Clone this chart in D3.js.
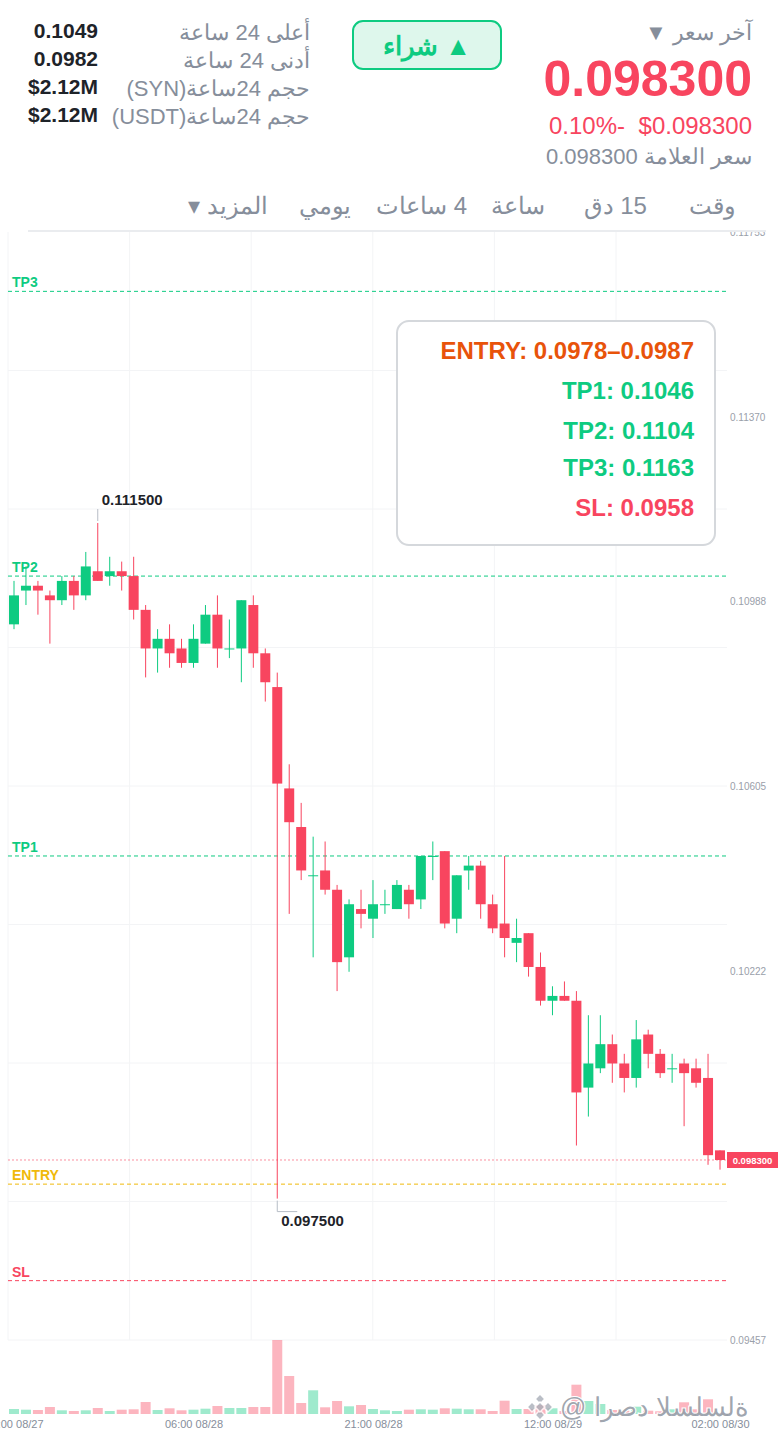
<!DOCTYPE html>
<html>
<head>
<meta charset="utf-8">
<script src="https://cdnjs.cloudflare.com/ajax/libs/d3/7.8.5/d3.min.js"></script>
<style>
  html, body { margin: 0; padding: 0; background: #fff; }
  svg { display: block; }
  text { font-family: "Liberation Sans", Arial, sans-serif; }
  .ar { direction: rtl; text-anchor: start; }
  .axes path { display: none; }
  .axes line { display: none; }
</style>
</head>
<body>
<div id="canvas"></div>
<script>
// DATA
const opens = [
  0.1094, 0.1101, 0.1102, 0.1100, 0.1099, 0.1103, 0.1100, 0.1105, 0.1104, 0.1105,
  0.1104, 0.1097, 0.1089, 0.1091, 0.1089, 0.1086, 0.1090, 0.1096, 0.1089, 0.1089,
  0.1098, 0.1088, 0.1081, 0.1060, 0.1052, 0.1042, 0.1043, 0.1039, 0.1025, 0.1035,
  0.1033, 0.1036, 0.1035, 0.1039, 0.1037, 0.1046, 0.1047, 0.1033, 0.1043, 0.1044,
  0.1036, 0.1032, 0.1028, 0.1030, 0.1023, 0.1016, 0.1017, 0.1016, 0.0998, 0.1002,
  0.1007, 0.1003, 0.1000, 0.1009, 0.1005, 0.1002, 0.1003, 0.1002, 0.1000, 0.0985
];
const closes = [
  0.1100, 0.1102, 0.1101, 0.1099, 0.1103, 0.1100, 0.1106, 0.1103, 0.1105, 0.1104,
  0.1097, 0.1089, 0.1091, 0.1088, 0.1086, 0.1091, 0.1096, 0.1089, 0.1089, 0.1099,
  0.1088, 0.1082, 0.1061, 0.1053, 0.1043, 0.1042, 0.1039, 0.1024, 0.1036, 0.1034,
  0.1036, 0.1036, 0.1040, 0.1036, 0.1046, 0.1046, 0.1032, 0.1042, 0.1044, 0.1036,
  0.1031, 0.1029, 0.1029, 0.1023, 0.1016, 0.1017, 0.1016, 0.0997, 0.1003, 0.1007,
  0.1003, 0.1000, 0.1008, 0.1005, 0.1001, 0.1002, 0.1001, 0.0999, 0.0984, 0.0983
];
const highs = [
  0.1103, 0.1106, 0.1103, 0.1101, 0.1104, 0.1104, 0.1109, 0.1115, 0.1108, 0.1107,
  0.1108, 0.1098, 0.1093, 0.1094, 0.1091, 0.1094, 0.1098, 0.1100, 0.1095, 0.1099,
  0.1100, 0.1089, 0.1084, 0.1065, 0.1057, 0.1050, 0.1049, 0.1040, 0.1037, 0.1039,
  0.1041, 0.1039, 0.1041, 0.1040, 0.1046, 0.1049, 0.1047, 0.1042, 0.1046, 0.1045,
  0.1038, 0.1046, 0.1033, 0.1030, 0.1026, 0.1019, 0.1020, 0.1018, 0.1013, 0.1013,
  0.1009, 0.1005, 0.1012, 0.1010, 0.1006, 0.1005, 0.1004, 0.1004, 0.1005, 0.0985
];
const lows = [
  0.1093, 0.1098, 0.1096, 0.1090, 0.1098, 0.1097, 0.1099, 0.1103, 0.1102, 0.1101,
  0.1095, 0.1083, 0.1084, 0.1085, 0.1085, 0.1085, 0.1090, 0.1085, 0.1087, 0.1082,
  0.1085, 0.1078, 0.0975, 0.1034, 0.1041, 0.1025, 0.1038, 0.1018, 0.1022, 0.1031,
  0.1029, 0.1034, 0.1035, 0.1033, 0.1035, 0.1041, 0.1031, 0.1030, 0.1039, 0.1033,
  0.1030, 0.1025, 0.1024, 0.1021, 0.1015, 0.1013, 0.1016, 0.0986, 0.0992, 0.1001,
  0.0999, 0.0997, 0.0998, 0.1002, 0.1000, 0.0999, 0.0990, 0.0998, 0.0982, 0.0981
];
const volumes = [
  5, 4.3, 4, 7, 3.7, 3, 3.7, 6, 3, 4.3,
  4.7, 12, 4, 5.7, 3.7, 4.3, 5.3, 8, 6, 6,
  7, 7, 74, 38, 11, 23.7, 6.7, 13, 7.7, 9,
  5, 3.7, 3, 4.3, 4.7, 4.3, 5.7, 5.3, 4.7, 4.7,
  3, 13.3, 5, 5, 9, 5.7, 3, 29.3, 13, 10,
  4, 3.3, 7.3, 3.3, 2.7, 4.7, 11.7, 4.7, 14.7, 1
];
const priceTicks = [0.11753, 0.11370, 0.10988, 0.10605, 0.10222, 0.09457];
const timeTickIndex = [0, 15, 30, 45, 59];
const timeTickLabels = ["15:00 08/27", "06:00 08/28", "21:00 08/28", "12:00 08/29", "02:00 08/30"];
const levelNames = ["TP3", "TP2", "TP1", "ENTRY", "SL"];
const levelPrices = [0.1163, 0.1104, 0.1046, 0.0978, 0.0958];
const lastPrice = 0.0983;
const highMark = 0.1115;
const lowMark = 0.0975;
const statLabels = ["أعلى 24 ساعة", "أدنى 24 ساعة", "حجم 24ساعة(SYN)", "حجم 24ساعة(USDT)"];
const statValues = ["0.1049", "0.0982", "$2.12M", "$2.12M"];
const tabNames = ["وقت", "15 دق", "ساعة", "4 ساعات", "يومي", "المزيد ▾"];
const noteLines = ["ENTRY: 0.0978–0.0987", "TP1: 0.1046", "TP2: 0.1104", "TP3: 0.1163", "SL: 0.0958"];

// COLORS
const green = "#0ecb81";
const red = "#f8455f";
const gray = "#868e9b";
const dark = "#1e2329";
const levelColors = [green, green, green, "#f0b90b", red];
const noteColors = ["#e8530a", green, green, green, red];

// DIMENSIONS
const width = 780;
const height = 1432;
const plot = { left: 8, right: 727, top: 232, bottom: 1340, volBottom: 1414 };

const canvas = d3.select("#canvas")
  .append("svg")
  .attr("width", width)
  .attr("height", height);

canvas.append("clipPath").attr("id", "axis-clip")
  .append("rect").attr("x", 0).attr("y", plot.top).attr("width", width).attr("height", height - plot.top);

// SCALES
const scaleX = d3.scaleLinear().domain([0, opens.length - 1]).range([14, 720]);
const scaleY = d3.scaleLinear().domain([0.09457, 0.11753]).range([plot.bottom, plot.top]);
const scaleVol = d3.scaleLinear().domain([0, d3.max(volumes)]).range([plot.volBottom, plot.bottom]);
const scaleCol = d3.scaleLinear().domain([0, 5]).range([8, 616]);
const scaleRow = d3.scaleLinear().domain([0, 8]).range([plot.top, plot.bottom]);

const candles = opens.map((o, i) => ({
  i: i, open: o, close: closes[i], high: highs[i], low: lows[i], vol: volumes[i],
  color: closes[i] >= o ? green : red
}));

// HEADER
const header = canvas.append("g");

header.append("text").attr("class", "ar")
  .attr("x", 752).attr("y", 40).attr("font-size", 22).attr("fill", gray)
  .text("آخر سعر ▼");
header.append("text")
  .attr("x", 752).attr("y", 96).attr("text-anchor", "end")
  .attr("font-size", 50).attr("font-weight", 700).attr("fill", red)
  .text("0.098300");
header.append("text")
  .attr("x", 752).attr("y", 134).attr("text-anchor", "end")
  .attr("font-size", 24).attr("fill", red)
  .text("$0.098300");
header.append("text")
  .attr("x", 625).attr("y", 134).attr("text-anchor", "end")
  .attr("font-size", 24).attr("fill", red)
  .text("0.10%-");
header.append("text").attr("class", "ar")
  .attr("x", 752).attr("y", 164).attr("font-size", 22).attr("fill", gray)
  .text("سعر العلامة 0.098300");

// buy button
header.append("rect")
  .attr("x", 353).attr("y", 21).attr("width", 148).attr("height", 48).attr("rx", 10)
  .attr("fill", "#def7ec").attr("stroke", green).attr("stroke-width", 2);
header.append("text")
  .attr("x", 427).attr("y", 55).attr("text-anchor", "middle")
  .style("direction", "rtl")
  .attr("font-size", 26).attr("font-weight", 700).attr("fill", green)
  .text("▲ شراء");

// 24h stats
header.selectAll(".stat-label").data(statLabels).enter()
  .append("text").attr("class", "ar stat-label")
  .attr("x", 310).attr("y", (d, i) => 40 + i * 28)
  .attr("font-size", 22).attr("fill", gray)
  .text(d => d);
header.selectAll(".stat-value").data(statValues).enter()
  .append("text").attr("class", "stat-value")
  .attr("x", 98).attr("y", (d, i) => 38 + i * 28).attr("text-anchor", "end")
  .attr("font-size", 21).attr("font-weight", 700).attr("fill", dark)
  .text(d => d);

// tabs
const tabX = d3.scalePoint().domain(tabNames)
  .range([712, 228]);
header.selectAll(".tab").data(tabNames).enter()
  .append("text").attr("class", "tab")
  .attr("x", d => tabX(d)).attr("y", 214).attr("text-anchor", "middle")
  .style("direction", "rtl")
  .attr("font-size", 24).attr("fill", gray)
  .text(d => d);

// GRID
const grid = canvas.append("g").attr("stroke", "#f3f4f6").attr("stroke-width", 1);
grid.selectAll(".row").data(d3.range(1, 9)).enter()
  .append("line").attr("class", "row")
  .attr("x1", plot.left).attr("x2", plot.right)
  .attr("y1", d => scaleRow(d)).attr("y2", d => scaleRow(d));
grid.selectAll(".col").data(d3.range(0, 6)).enter()
  .append("line").attr("class", "col")
  .attr("x1", d => scaleCol(d)).attr("x2", d => scaleCol(d))
  .attr("y1", plot.top).attr("y2", plot.bottom);

canvas.append("line")
  .attr("x1", 28).attr("x2", 766).attr("y1", 231).attr("y2", 231)
  .attr("stroke", "#eaecef").attr("stroke-width", 2);

// VOLUME
canvas.selectAll(".vol").data(candles).enter()
  .append("rect").attr("class", "vol")
  .attr("x", d => scaleX(d.i) - 5).attr("width", 10)
  .attr("y", d => scaleVol(d.vol)).attr("height", d => scaleVol(0) - scaleVol(d.vol))
  .attr("fill", d => d.color).attr("opacity", 0.4);

// LEVEL LINES
canvas.selectAll(".level").data(levelNames).enter()
  .append("line").attr("class", "level")
  .attr("x1", plot.left).attr("x2", plot.right)
  .attr("y1", (d, i) => scaleY(levelPrices[i])).attr("y2", (d, i) => scaleY(levelPrices[i]))
  .attr("stroke", (d, i) => levelColors[i]).attr("stroke-width", 1)
  .attr("stroke-dasharray", "4 3");
canvas.selectAll(".level-label").data(levelNames).enter()
  .append("text").attr("class", "level-label")
  .attr("x", 12).attr("y", (d, i) => scaleY(levelPrices[i]) - 4)
  .attr("font-size", 14).attr("font-weight", 700)
  .attr("fill", (d, i) => levelColors[i])
  .text(d => d);

// CANDLES
canvas.selectAll(".wick").data(candles).enter()
  .append("line").attr("class", "wick")
  .attr("x1", d => scaleX(d.i)).attr("x2", d => scaleX(d.i))
  .attr("y1", d => scaleY(d.high)).attr("y2", d => scaleY(d.low))
  .attr("stroke", d => d.color).attr("stroke-width", 1);
canvas.selectAll(".body").data(candles).enter()
  .append("rect").attr("class", "body")
  .attr("x", d => scaleX(d.i) - 5).attr("width", 10)
  .attr("y", d => scaleY(Math.max(d.open, d.close)))
  .attr("height", d => Math.max(1, Math.abs(scaleY(d.open) - scaleY(d.close))))
  .attr("fill", d => d.color);

// LAST PRICE
canvas.append("line")
  .attr("x1", plot.left).attr("x2", plot.right)
  .attr("y1", scaleY(lastPrice)).attr("y2", scaleY(lastPrice))
  .attr("stroke", red).attr("stroke-opacity", 0.6)
  .attr("stroke-width", 1).attr("stroke-dasharray", "2 2");
canvas.append("rect")
  .attr("x", 727).attr("y", scaleY(lastPrice) - 8).attr("width", 51).attr("height", 16)
  .attr("fill", red);
canvas.append("text")
  .attr("x", 752.5).attr("y", scaleY(lastPrice) + 4).attr("text-anchor", "middle")
  .attr("font-size", 9.5).attr("font-weight", 700).attr("fill", "#fff")
  .text(d3.format(".6f")(lastPrice));

// HIGH / LOW MARKERS
const highX = scaleX(highs.indexOf(highMark));
const lowX = scaleX(lows.indexOf(lowMark));
canvas.append("line")
  .attr("x1", highX).attr("x2", highX)
  .attr("y1", scaleY(highMark) - 14).attr("y2", scaleY(highMark) - 2)
  .attr("stroke", "#b7bdc6");
canvas.append("text")
  .attr("x", highX + 4).attr("y", scaleY(highMark) - 18)
  .attr("font-size", 15).attr("font-weight", 700).attr("fill", dark)
  .text(d3.format(".6f")(highMark));
canvas.append("path")
  .attr("d", d3.line()([[lowX, scaleY(lowMark) + 2], [lowX, scaleY(lowMark) + 13], [lowX + 20, scaleY(lowMark) + 13]]))
  .attr("fill", "none").attr("stroke", "#b7bdc6");
canvas.append("text")
  .attr("x", lowX + 4).attr("y", scaleY(lowMark) + 27)
  .attr("font-size", 15).attr("font-weight", 700).attr("fill", dark)
  .text(d3.format(".6f")(lowMark));

// AXES
const yAx = d3.axisRight(scaleY).tickValues(priceTicks).tickFormat(d3.format(".5f")).tickSize(0);
canvas.append("g")
  .attr("class", "axes")
  .attr("clip-path", "url(#axis-clip)")
  .append("g")
  .attr("transform", "translate(727,0)")
  .call(yAx)
  .selectAll("text")
  .attr("x", 3)
  .attr("font-size", 10).attr("fill", "#9aa0aa");

const xAx = d3.axisBottom(scaleX).tickValues(timeTickIndex)
  .tickFormat((d, i) => timeTickLabels[i]).tickSize(0);
canvas.append("g")
  .attr("class", "axes")
  .attr("transform", "translate(0,1417)")
  .call(xAx)
  .selectAll("text")
  .attr("y", 3)
  .attr("font-size", 11).attr("fill", gray);

// NOTE BOX
canvas.append("rect")
  .attr("x", 397).attr("y", 321).attr("width", 318).attr("height", 224).attr("rx", 12)
  .attr("fill", "#fff").attr("stroke", "#d5d8dc").attr("stroke-width", 2);
const noteBase = [359, 399, 439, 476, 516];
canvas.selectAll(".note").data(noteLines).enter()
  .append("text").attr("class", "note")
  .attr("x", 694).attr("y", (d, i) => noteBase[i]).attr("text-anchor", "end")
  .attr("font-size", 24).attr("font-weight", 700)
  .attr("fill", (d, i) => noteColors[i])
  .text(d => d);

// WATERMARK
const mark = canvas.append("g").attr("transform", "translate(540,1407)")
  .attr("fill", "#a9afb8").attr("stroke", "#fff").attr("stroke-width", 1.5).attr("opacity", 0.8);
[[0, -8], [-8, 0], [8, 0], [0, 8], [0, 0]].forEach(p => {
  mark.append("rect")
    .attr("x", -3.5).attr("y", -3.5).attr("width", 7).attr("height", 7)
    .attr("transform", `translate(${p[0]},${p[1]}) rotate(45)`);
});
canvas.append("text")
  .attr("x", 560).attr("y", 1416)
  .style("direction", "ltr").style("unicode-bidi", "bidi-override")
  .attr("font-size", 26).attr("letter-spacing", 2)
  .attr("fill", "#8f96a1").attr("fill-opacity", 0.85)
  .attr("stroke", "#fff").attr("stroke-width", 2).attr("paint-order", "stroke")
  .text("@ ارصد السلسلة");
</script>
</body>
</html>
